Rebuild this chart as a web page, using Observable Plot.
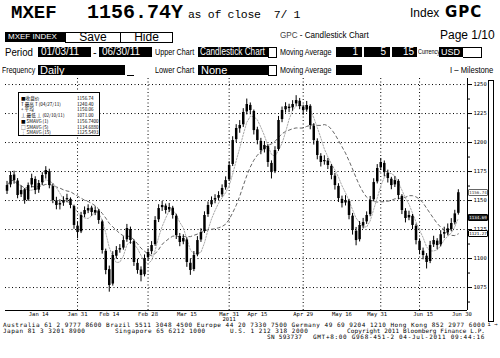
<!DOCTYPE html>
<html><head><meta charset="utf-8">
<script src="https://cdn.jsdelivr.net/npm/d3@7"></script>
<script src="https://cdn.jsdelivr.net/npm/@observablehq/plot@0.6"></script>
<style>
body{margin:0;background:#fff;width:500px;height:358px;overflow:hidden;position:relative;font-family:"Liberation Sans",Arial,sans-serif;color:#000}
.a{position:absolute;white-space:nowrap}
.blk{position:absolute;background:#000;color:#fff;white-space:nowrap;overflow:hidden;box-sizing:border-box}
.box{position:absolute;background:#fff;border:1px solid #000;box-sizing:border-box;white-space:nowrap;text-align:center}
.n{transform-origin:0 50%;display:inline-block}
#chart{position:absolute;left:0;top:72px}
.mono{font-family:"DejaVu Sans Mono",monospace}
.ft{position:absolute;white-space:nowrap;font-family:"DejaVu Sans Mono",monospace;font-size:6px;line-height:6px}
.lr{position:absolute;left:2px;height:6px;width:78px}
.lr span{position:absolute;top:0;display:inline-block;height:6px;line-height:6px;overflow:hidden;white-space:nowrap}
</style></head>
<body>
<div class="a" style="left:11px;top:4px;font-family:'Liberation Mono',monospace;font-weight:bold;font-size:19px;line-height:19px">MXEF</div>
<div class="a" style="left:87px;top:3px;font-family:'Liberation Mono',monospace;font-weight:bold;font-size:20px;line-height:20px">1156.74Y</div>
<div class="a" style="left:188px;top:9px;font-family:'Liberation Mono',monospace;font-size:11.5px;line-height:12px;letter-spacing:-0.3px">as of close&nbsp; 7/ 1</div>
<div class="a" style="left:410px;top:7px;font-size:12px;line-height:13px">Index</div>
<div class="a" style="left:445px;top:5px;font-family:'DejaVu Sans',sans-serif;font-weight:bold;font-size:15px;line-height:15px;letter-spacing:1px">GPC</div>

<div class="blk" style="left:5px;top:32px;width:60px;height:10px;font-size:8px;line-height:10px;padding-left:3px">MXEF INDEX</div>
<div class="box" style="left:65px;top:32px;width:56px;height:11px;font-size:12px;line-height:9px">Save</div>
<div class="box" style="left:120px;top:32px;width:53px;height:11px;font-size:12px;line-height:9px">Hide</div>
<div class="a" style="left:280px;top:30px;font-size:9px;line-height:10px"><span class="n" style="transform:scaleX(0.9)"><span style="color:#444">GPC</span> - Candlestick Chart</span></div>
<div class="a" style="left:440px;top:29px;font-size:12px;line-height:13px">Page 1/10</div>

<div class="a" style="left:5px;top:46px;font-size:11px;line-height:12px"><span class="n" style="transform:scaleX(0.88)">Period</span></div>
<div class="blk" style="left:38px;top:47px;width:53px;height:10px;font-size:10px;line-height:10px;padding-left:3px">01/03/11</div>
<div class="a" style="left:93px;top:46px;font-size:11px;line-height:12px">-</div>
<div class="blk" style="left:99px;top:47px;width:53px;height:10px;font-size:10px;line-height:10px;padding-left:3px">06/30/11</div>
<div class="a" style="left:155px;top:47px;font-size:9px;line-height:10px"><span class="n" style="transform:scaleX(0.8)">Upper Chart</span></div>
<div class="blk" style="left:198px;top:47px;width:70px;height:10px;font-size:10px;line-height:10px;padding-left:2px"><span class="n" style="transform:scaleX(0.82)">Candlestick Chart</span></div>
<div class="box" style="left:268px;top:47px;width:9px;height:11px"></div>
<div class="a" style="left:280px;top:47px;font-size:9px;line-height:10px"><span class="n" style="transform:scaleX(0.8)">Moving Average</span></div>
<div class="blk" style="left:336px;top:47px;width:26px;height:10px;font-size:10px;line-height:10px;text-align:right;padding-right:4px">1</div>
<div class="blk" style="left:364px;top:47px;width:26px;height:10px;font-size:10px;line-height:10px;text-align:right;padding-right:4px">5</div>
<div class="blk" style="left:392px;top:47px;width:25px;height:10px;font-size:10px;line-height:10px;text-align:right;padding-right:3px">15</div>
<div class="a" style="left:418px;top:47px;font-size:7.5px;line-height:10px;width:20px;overflow:visible"><span class="n" style="transform:scaleX(0.72)">Currency</span></div>
<div class="blk" style="left:439px;top:47px;width:24px;height:10px;font-size:9px;line-height:10px;padding-left:2px">USD</div>
<div class="box" style="left:463px;top:47px;width:19px;height:11px;border-left:none"></div>

<div class="a" style="left:2px;top:65px;font-size:9px;line-height:10px"><span class="n" style="transform:scaleX(0.78)">Frequency</span></div>
<div class="blk" style="left:38px;top:65px;width:87px;height:10px;font-size:11px;line-height:10px;padding-left:2px">Daily</div>
<div class="a" style="left:127px;top:75px;width:7px;height:1px;background:#000"></div>
<div class="a" style="left:155px;top:65px;font-size:9px;line-height:10px"><span class="n" style="transform:scaleX(0.8)">Lower Chart</span></div>
<div class="blk" style="left:198px;top:65px;width:70px;height:10px;font-size:11px;line-height:10px;padding-left:3px">None</div>
<div class="box" style="left:268px;top:65px;width:9px;height:11px"></div>
<div class="a" style="left:280px;top:65px;font-size:9px;line-height:10px"><span class="n" style="transform:scaleX(0.8)">Moving Average</span></div>
<div class="blk" style="left:336px;top:65px;width:26px;height:10px"></div>
<div class="a" style="left:450px;top:65px;font-size:9px;line-height:10px"><span class="n" style="transform:scaleX(0.85)">I – Milestone</span></div>

<div id="chart"></div>
<div id="tags"></div>

<div class="box" style="left:18px;top:92px;width:82px;height:44px;text-align:left;font-size:4.6px;font-family:'Noto Sans CJK SC','DejaVu Sans',sans-serif" id="legend"></div>

<div class="box" style="left:488px;top:80px;width:6px;height:242px"></div>

<div class="ft" style="left:3px;top:322px;letter-spacing:0.51px">Australia 61 2 9777 8600 Brazil 5511 3048 4500 Europe 44 20 7330 7500 Germany 49 69 9204 1210 Hong Kong 852 2977 6000</div>
<div class="ft" style="left:3px;top:328px;letter-spacing:0.51px">Japan 81 3 3201 8900</div>
<div class="ft" style="left:115px;top:328px;letter-spacing:0.51px">Singapore 65 6212 1000</div>
<div class="ft" style="left:230px;top:328px;letter-spacing:0.51px">U.S. 1 212 318 2000</div>
<div class="ft" style="left:347px;top:328px;letter-spacing:0.12px">Copyright 2011 Bloomberg Finance L.P.</div>
<div class="ft" style="left:267px;top:334px;letter-spacing:0.3px">SN 593737</div>
<div class="ft" style="left:313px;top:334px;letter-spacing:0.69px">GMT+8:00 G968-451-2 04-Jul-2011 09:44:16</div>

<script>
const open = [1158.0,1163.5,1172.0,1166.8,1155.0,1159.2,1150.5,1163.4,1168.2,1159.0,1165.2,1172.3,1174.8,1162.0,1149.6,1146.1,1147.8,1150.6,1151.0,1144.8,
1127.9,1123.0,1137.8,1141.0,1143.5,1139.2,1141.0,1131.6,1106.2,1090.4,1078.0,1102.0,1107.3,1109.0,1116.2,1125.0,1114.6,1095.8,1090.1,1086.0,
1100.8,1105.9,1112.0,1133.4,1143.9,1145.2,1141.9,1143.4,1136.5,1119.0,1114.3,1116.0,1095.9,1090.5,1103.1,1116.0,1123.2,1137.9,1146.3,1150.4,
1152.0,1154.9,1161.0,1168.0,1181.1,1202.5,1211.8,1215.3,1226.4,1232.0,1226.8,1210.9,1201.0,1193.8,1196.5,1182.0,1175.0,1194.0,1219.8,1228.2,
1230.5,1229.9,1233.3,1235.6,1230.4,1228.0,1231.2,1214.0,1201.0,1188.1,1183.4,1184.0,1179.5,1171.0,1162.2,1151.0,1147.9,1149.3,1136.5,1123.5,
1116.2,1128.0,1131.6,1137.8,1150.7,1166.1,1178.2,1182.0,1173.5,1168.4,1163.5,1166.5,1153.6,1140.8,1135.0,1136.4,1127.8,1114.9,1106.3,1102.0,
1097.4,1111.8,1115.0,1111.9,1121.0,1122.0,1125.0,1130.8,1139.0];
const high = [1166.5,1174.8,1175.3,1168.9,1162.4,1160.3,1165.1,1172.7,1170.5,1167.3,1174.0,1179.2,1177.0,1164.2,1152.8,1150.6,1153.2,1155.4,1152.3,1146.0,
1131.6,1139.8,1144.5,1146.3,1145.1,1144.6,1142.2,1133.0,1108.1,1093.5,1105.9,1110.3,1112.0,1118.8,1129.4,1127.1,1116.0,1099.4,1092.8,1103.1,
1108.4,1114.6,1136.1,1146.4,1149.2,1147.0,1147.5,1145.0,1138.2,1121.6,1120.5,1117.8,1099.6,1106.0,1118.9,1125.7,1140.3,1148.8,1153.1,1155.0,
1157.6,1163.5,1170.4,1183.6,1205.0,1215.4,1218.9,1229.2,1237.5,1234.1,1228.0,1213.2,1203.6,1200.9,1198.1,1184.2,1196.4,1222.5,1230.6,1234.3,
1233.0,1236.1,1240.4,1238.0,1232.2,1235.4,1232.6,1216.3,1203.2,1190.4,1188.6,1186.3,1181.0,1173.4,1164.5,1153.8,1154.2,1151.0,1138.9,1126.8,
1131.9,1134.6,1140.2,1153.5,1168.8,1181.0,1186.3,1184.1,1176.2,1170.0,1170.6,1168.0,1155.1,1143.0,1140.8,1138.0,1129.6,1117.0,1109.0,1104.3,
1114.8,1119.2,1117.1,1124.0,1127.0,1129.8,1134.4,1141.6,1159.3];
const low = [1155.2,1161.0,1164.1,1151.5,1152.6,1146.8,1149.2,1160.8,1155.1,1156.2,1162.8,1168.5,1160.1,1147.3,1142.0,1141.9,1145.0,1148.1,1142.9,1125.2,
1117.0,1121.5,1135.2,1138.7,1136.4,1137.0,1129.5,1103.8,1086.0,1071.0,1076.2,1099.4,1104.6,1107.2,1114.0,1112.3,1093.2,1086.5,1079.9,1084.2,
1098.0,1103.3,1110.5,1131.0,1140.6,1138.3,1139.6,1134.0,1116.4,1110.2,1111.9,1092.4,1085.5,1088.7,1101.5,1113.9,1121.6,1135.5,1144.0,1147.2,
1149.8,1152.8,1158.9,1166.4,1179.3,1199.8,1208.0,1213.0,1223.8,1223.9,1206.5,1198.0,1189.5,1191.0,1178.6,1168.6,1173.2,1192.4,1217.1,1225.4,
1225.8,1227.0,1231.2,1228.3,1223.5,1226.1,1211.0,1197.8,1185.1,1178.9,1180.5,1176.7,1167.9,1159.0,1148.3,1143.6,1145.3,1133.4,1120.2,1111.0,
1114.3,1125.5,1129.4,1136.0,1148.9,1164.3,1176.0,1170.4,1165.1,1159.3,1161.2,1150.6,1137.9,1130.7,1132.6,1124.9,1111.8,1103.2,1098.9,1091.0,
1095.6,1109.5,1107.6,1110.0,1117.2,1119.5,1123.1,1128.9,1137.4];
const close = [1162.9,1171.6,1167.2,1154.3,1158.6,1150.0,1162.9,1169.0,1158.6,1164.7,1171.6,1175.9,1162.9,1150.0,1145.7,1147.4,1150.0,1151.7,1145.7,1128.5,
1122.4,1137.1,1141.4,1143.1,1139.7,1141.4,1132.8,1106.9,1089.7,1076.7,1102.6,1106.9,1108.6,1115.5,1125.9,1115.5,1096.6,1089.7,1085.4,1100.0,
1105.2,1111.2,1132.8,1143.1,1145.7,1141.4,1144.0,1137.1,1119.8,1113.8,1117.3,1096.6,1089.7,1102.6,1115.5,1122.4,1137.1,1145.7,1150.0,1151.7,
1154.3,1160.4,1167.2,1180.2,1201.7,1212.1,1214.7,1225.9,1232.8,1227.6,1210.3,1201.7,1193.1,1197.4,1182.8,1174.1,1193.1,1219.0,1227.6,1231.0,
1229.3,1232.8,1236.2,1231.0,1227.6,1231.9,1214.7,1201.7,1188.8,1182.8,1184.5,1180.2,1171.6,1162.9,1151.7,1147.4,1150.0,1137.1,1124.1,1115.5,
1128.5,1131.0,1137.1,1150.0,1165.5,1177.6,1182.8,1174.1,1169.0,1162.9,1167.2,1154.3,1141.4,1134.5,1137.1,1128.5,1115.5,1106.9,1102.6,1096.6,
1111.2,1115.5,1111.2,1120.5,1122.4,1125.6,1130.2,1138.5,1156.74];

const yTicks = [1075,1100,1125,1150,1175,1200,1225,1250];
const yMinorTicks = [1062.5,1087.5,1112.5,1137.5,1162.5,1187.5,1212.5,1237.5];
const xTickDays = [9,20,29,40,51,63,71,84,95,105,118,129];
const xTickLabels = ["Jan 14","Jan 31","Feb 14","Feb 28","Mar 15","Mar 31\n2011","Apr 15","Apr 29","May 16","May 31","Jun 15","Jun 30"];
const gridDays = [20,40,63,84,106,117];
const xDomain = [-0.43,130.6];
const yDomain = [1055.2,1255.2];
const maPeriods = [5,15];
const legendRows = [
 ["■收盘价","1156.74"],
 ["T 最高 T (04/27/11)","1240.40"],
 ["+ 平均","1150.06"],
 ["⊥ 最低 ⊥ (02/10/11)","1071.00"],
 ["■ SMAVG (1)","1156.7400"],
 ["□ SMAVG (5)","1134.6880"],
 ["⋮ SMAVG (15)","1125.5493"]
];

const candles = close.map((c,i)=>({i, o:open[i], h:high[i], l:low[i], c}));

const chart = Plot.plot({
  width:500, height:256,
  marginLeft:5, marginRight:33, marginTop:6, marginBottom:18,
  x:{domain:xDomain},
  y:{domain:yDomain},
  style:{background:"transparent", color:"#000", fontFamily:"'DejaVu Sans Mono',monospace", fontSize:"6px", overflow:"visible"},
  marks:[
    Plot.ruleY(yTicks,{stroke:"#000", strokeDasharray:"1,2.5"}),
    Plot.ruleX(gridDays,{stroke:"#000", strokeDasharray:"1,2.5"}),
    Plot.ruleY([yDomain[0]],{stroke:"#000"}),
    Plot.ruleX([xDomain[1]],{stroke:"#000"}),
    Plot.axisY(yTicks,{anchor:"right", tickSize:4, tickPadding:2, tickFormat:d=>String(d), fontSize:5.5}),
    Plot.axisY(yMinorTicks,{anchor:"right", tickSize:2, tickFormat:()=>""}),
    Plot.axisX(xTickDays,{anchor:"bottom", tickSize:0, tickPadding:2, tickFormat:(d,i)=>xTickLabels[i], fontSize:5.5, lineHeight:0.95}),
    Plot.lineY(candles, Plot.windowY({k:maPeriods[1], anchor:"end"}, {x:"i", y:"c", stroke:"#666", strokeWidth:1, strokeDasharray:"3,3"})),
    Plot.lineY(candles, Plot.windowY({k:maPeriods[0], anchor:"end"}, {x:"i", y:"c", stroke:"#aaa", strokeWidth:1, strokeDasharray:"1.5,1.5"})),
    Plot.ruleX(candles,{x:"i", y1:"l", y2:"h", stroke:"#000", strokeWidth:1}),
    Plot.ruleX(candles,{x:"i", y1:"o", y2:"c", stroke:"#000", strokeWidth:2.5})
  ]
});
document.getElementById("chart").append(chart);

// value tags at right
const ys = chart.scale("y");
const last = close.length - 1;
const ma = k => d3.mean(close.slice(last - k + 1));
const tagDefs = [
  {v: close[last], bg:"#fff", fg:"#333", bd:"#666"},
  {v: ma(maPeriods[0]), bg:"#222", fg:"#fff", bd:"#000"},
  {v: ma(maPeriods[1]), bg:"#fff", fg:"#000", bd:"#000"}
];
const tags = document.getElementById("tags");
for (const t of tagDefs) {
  const d = document.createElement("div");
  d.className = "a mono";
  d.style.cssText = `left:468px;top:${72 + ys.apply(t.v) - 3.5}px;width:20px;height:7px;box-sizing:border-box;border:1px solid ${t.bd};background:${t.bg};color:${t.fg};font-size:4.2px;line-height:5px;text-align:center;border-radius:1px`;
  d.textContent = t.v.toFixed(2);
  tags.append(d);
}

// legend
const lg = document.getElementById("legend");
legendRows.forEach(([k,v], j) => {
  const r = document.createElement("div");
  r.className = "lr";
  r.style.top = (2 + j * 5.7) + "px";
  r.innerHTML = `<span style="left:0;width:54px">${k}</span><span style="left:56px;width:23px">${v}</span>`;
  lg.append(r);
});
</script>
</body></html>
